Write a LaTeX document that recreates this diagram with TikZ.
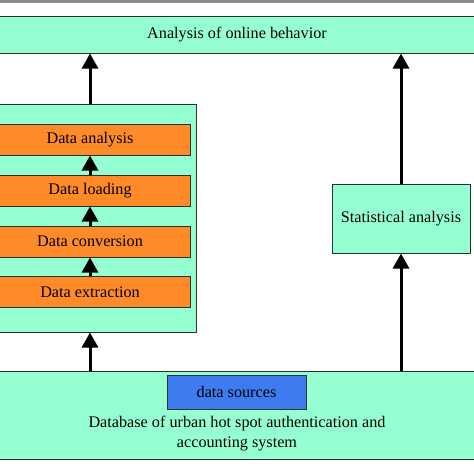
\documentclass[tikz,border=0pt]{standalone}
\usepackage{fontspec}
\setmainfont{Liberation Serif}
\usetikzlibrary{arrows.meta}
\definecolor{aqua}{RGB}{150,255,210}
\definecolor{orng}{RGB}{255,138,40}
\definecolor{blu}{RGB}{62,122,240}
\definecolor{edge}{RGB}{40,50,45}
\tikzset{
  box/.style={draw=edge, line width=1pt, inner sep=0pt, align=center, font=\fontsize{16.2}{20}\selectfont, text=black},
  aquabox/.style={box, fill=aqua},
  orbox/.style={box, fill=orng, minimum width=200pt, minimum height=31pt},
  arr/.style={line width=3pt, -{Triangle[width=16pt,length=15pt]}},
}
\begin{document}
\begin{tikzpicture}[x=1pt,y=-1pt]
\useasboundingbox (0,0) rectangle (474,474);
\fill[white] (0,0) rectangle (474,474);
\fill[gray!90] (0,0) rectangle (474,2.5);
\node[aquabox, minimum width=490pt, minimum height=37pt] (top) at (237,34.5) {Analysis of online behavior};
\node[aquabox, minimum width=206pt, minimum height=228pt] (etl) at (93,218) {};
\node[orbox] (an) at (90,139.5) {Data analysis};
\node[orbox] (ld) at (90,190.5) {Data loading};
\node[orbox] (cv) at (90,241.5) {Data conversion};
\node[orbox] (ex) at (90,292) {Data extraction};
\node[aquabox, minimum width=138pt, minimum height=69pt] (stat) at (401,218.5) {Statistical analysis};
\node[aquabox, minimum width=490pt, minimum height=88pt] (db) at (237,415) {};
\node[box, fill=blu, minimum width=139pt, minimum height=34pt] (ds) at (236.5,392) {data sources};
\node[box, draw=none] (dbt) at (237,433.5) {Database of urban hot spot authentication and\\accounting system};
\draw[arr] (ex.north) -- (cv.south);
\draw[arr] (cv.north) -- (ld.south);
\draw[arr] (ld.north) -- (an.south);
\draw[arr] (etl.north -| an.center) -- (top.south -| an.center);
\draw[arr] (db.north -| an.center) -- (etl.south -| an.center);
\draw[arr] (stat.north) -- (stat.north |- top.south);
\draw[arr] (db.north -| stat.center) -- (stat.south);
\end{tikzpicture}
\end{document}
